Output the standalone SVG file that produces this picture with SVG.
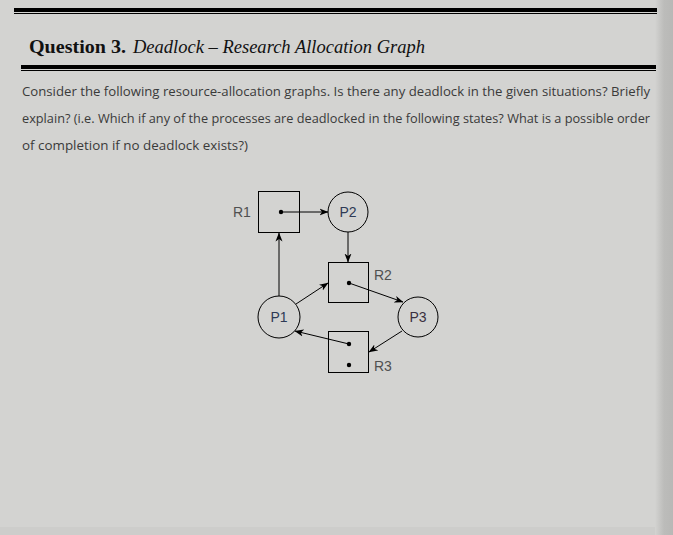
<svg xmlns="http://www.w3.org/2000/svg" width="673" height="535" viewBox="0 0 673 535">
  <defs>
    <linearGradient id="edge" x1="0" y1="0" x2="1" y2="0">
      <stop offset="0" stop-color="#d3d3d1"/>
      <stop offset="0.5" stop-color="#bcbcba"/>
      <stop offset="1" stop-color="#b8b8b6"/>
    </linearGradient>
    <marker id="arr" viewBox="0 0 9 8" refX="8.5" refY="4" markerWidth="9" markerHeight="8" markerUnits="userSpaceOnUse" orient="auto">
      <path d="M0,0.5 L9,4 L0,7.5 L2.5,4 z" fill="#000"/>
    </marker>
    <style>
      .box{fill:none;stroke:#000;stroke-width:1}
      .proc{fill:none;stroke:#000;stroke-width:1}
      .dot{fill:#000}
      .edge{stroke:#000;stroke-width:1;fill:none;marker-end:url(#arr)}
      .lbl{font-family:"Liberation Sans",Arial,sans-serif;font-size:14px;fill:#505050}
      .plbl{font-family:"Liberation Sans",Arial,sans-serif;font-size:14px;fill:#2e3a55;text-anchor:middle}
      .para{font-family:"Open Sans","Noto Sans",sans-serif;font-size:12.5px;fill:#3a3a3a}
      .title{font-family:"Liberation Serif","DejaVu Serif",serif;font-size:18px;fill:#111}
    </style>
  </defs>
  <rect x="0" y="0" width="673" height="535" fill="#d3d3d1"/>
  <rect x="0" y="527" width="673" height="8" fill="#cdcdcb"/>
  <rect x="655" y="0" width="18" height="535" fill="url(#edge)"/>

  <g id="header">
    <rect x="14" y="8" width="643" height="4" fill="#000"/>
    <rect x="14" y="13" width="643" height="1" fill="#000"/>
    <text class="title" x="29" y="53" font-weight="bold" textLength="97" lengthAdjust="spacingAndGlyphs">Question 3.</text>
    <text class="title" x="133" y="53" font-style="italic" textLength="292" lengthAdjust="spacingAndGlyphs">Deadlock – Research Allocation Graph</text>
    <rect x="21" y="65" width="635" height="4" fill="#000"/>
    <rect x="21" y="70" width="635" height="1" fill="#000"/>
  </g>

  <g id="question">
    <text class="para" x="22" y="96" textLength="628" lengthAdjust="spacingAndGlyphs">Consider the following resource-allocation graphs. Is there any deadlock in the given situations? Briefly</text>
    <text class="para" x="22" y="123" textLength="628" lengthAdjust="spacingAndGlyphs">explain? (i.e. Which if any of the processes are deadlocked in the following states? What is a possible order</text>
    <text class="para" x="22" y="150" textLength="226" lengthAdjust="spacingAndGlyphs">of completion if no deadlock exists?)</text>
  </g>

  <g id="connectors">
    <line class="edge" x1="281" y1="212" x2="328" y2="212"/>
    <line class="edge" x1="348" y1="232" x2="348" y2="262"/>
    <line class="edge" x1="279" y1="296" x2="279" y2="233"/>
    <line class="edge" x1="296" y1="304" x2="328" y2="283"/>
    <line class="edge" x1="349" y1="283" x2="403" y2="302"/>
    <line class="edge" x1="402" y1="331" x2="369" y2="352"/>
    <line class="edge" x1="349" y1="344" x2="295" y2="331"/>
  </g>

  <g id="R1">
    <rect class="box" x="258.5" y="191.5" width="41" height="41"/>
    <circle class="dot" cx="281" cy="212" r="2.2"/>
    <text class="lbl" x="233" y="217">R1</text>
  </g>
  <g id="P2">
    <circle class="proc" cx="348" cy="212" r="20"/>
    <text class="plbl" x="348" y="217">P2</text>
  </g>
  <g id="R2">
    <rect class="box" x="328.5" y="262.5" width="40" height="40"/>
    <circle class="dot" cx="349" cy="283" r="2.2"/>
    <text class="lbl" x="374" y="280">R2</text>
  </g>
  <g id="P1">
    <circle class="proc" cx="279" cy="317" r="21"/>
    <text class="plbl" x="279" y="322">P1</text>
  </g>
  <g id="P3">
    <circle class="proc" cx="418" cy="317" r="20"/>
    <text class="plbl" x="418" y="322" style="fill:#3a3040">P3</text>
  </g>
  <g id="R3">
    <rect class="box" x="328.5" y="331.5" width="40" height="41"/>
    <circle class="dot" cx="349" cy="344" r="2.2"/>
    <circle class="dot" cx="349" cy="365" r="2.2"/>
    <text class="lbl" x="374" y="371">R3</text>
  </g>
</svg>
